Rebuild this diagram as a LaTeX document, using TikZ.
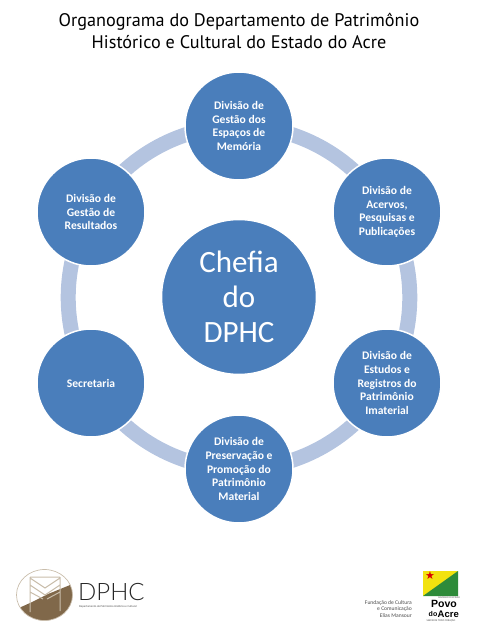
\documentclass[tikz,border=0pt]{standalone}
\usepackage{fontspec}
\setmainfont{Carlito}
\newfontfamily\titlefont{PT Sans}
\newfontfamily\logofont{Lato Light}
\newfontfamily\symfont{DejaVu Sans}
\newfontfamily\heavyfont[BoldFont=Liberation Sans Bold]{Liberation Sans}
\usetikzlibrary{backgrounds}
\definecolor{blueA}{HTML}{4A7EBB}
\definecolor{ringA}{HTML}{B4C4E0}
\definecolor{brownA}{HTML}{80684A}
\definecolor{lineA}{HTML}{C9BDAB}
\definecolor{flagG}{HTML}{2E8B3A}
\definecolor{flagY}{HTML}{F2E20F}
\tikzset{
  x=1pt,y=-1pt,
  outer/.style={circle,fill=blueA,draw=white,line width=1.5pt,minimum size=108pt,inner sep=0pt,
    text=white,align=center,font=\fontsize{11.6}{13.7}\selectfont\bfseries},
  hub/.style={circle,fill=blueA,draw=white,line width=1.5pt,minimum size=155pt,inner sep=0pt,
    text=white,align=center,font=\fontsize{31}{35}\selectfont},
  ringarc/.style={line width=15pt,draw=ringA,bend left=30,looseness=0.912},
  titletext/.style={align=center,font=\titlefont\fontsize{18.2}{22}\selectfont,text=black},
  smalltext/.style={align=right,anchor=east,inner sep=0pt,font=\fontsize{5.6}{6.4}\selectfont,text=black!70},
}
\begin{document}
\begin{tikzpicture}
\useasboundingbox (0,0) rectangle (478,640);
\node[titletext] (title) at (239,31) {Organograma do Departamento de Patrimônio\\Histórico e Cultural do Estado do Acre};
\node[hub] (hub) at (239,297) {Chefia\\do\\DPHC};
\node[outer] (n1) at (239,126) {Divisão de\\Gestão dos\\Espaços de\\Memória};
\node[outer] (n2) at (387,212) {Divisão de\\Acervos,\\Pesquisas e\\Publicações};
\node[outer] (n3) at (387,383) {Divisão de\\Estudos e\\Registros do\\Patrimônio\\Imaterial};
\node[outer] (n4) at (239,469) {Divisão de\\Preservação e\\Promoção do\\Patrimônio\\Material};
\node[outer] (n5) at (91,383) {Secretaria};
\node[outer] (n6) at (91,212) {Divisão de\\Gestão de\\Resultados};
\begin{scope}[on background layer]
\draw[ringarc] (n1.center) to (n2.center);
\draw[ringarc] (n2.center) to (n3.center);
\draw[ringarc] (n3.center) to (n4.center);
\draw[ringarc] (n4.center) to (n5.center);
\draw[ringarc] (n5.center) to (n6.center);
\draw[ringarc] (n6.center) to (n1.center);
\end{scope}
% DPHC logo
\begin{scope}
\clip (44.5,595) ellipse [x radius=28,y radius=25.5];
\fill[brownA] (10,612) -- (30,603) -- (48,594) -- (75,583) -- (75,625) -- (10,625) -- cycle;
\end{scope}
\draw[lineA,line width=0.7pt] (44.5,595) ellipse [x radius=28,y radius=25.5];
\draw[lineA,line width=1pt] (30,577) -- (30,612) (60,577) -- (60,611)
  (30,578) -- (45,588) -- (60,578) (30,585) -- (45,595) -- (60,585)
  (30,592) -- (43,599) (47,599) -- (60,592) (30,577) -- (60,577);
\node[inner sep=0pt,anchor=west,font=\logofont\fontsize{24}{24}\selectfont,text=black!85] (dphc) at (78,592) {DPHC};
\node[inner sep=0pt,anchor=west,font=\fontsize{2.9}{4}\selectfont,text=black!70] (dphcsub) at (79,607) {Departamento de Patrimônio Histórico e Cultural};
% FEM
\node[smalltext] (fem) at (412,609) {Fundação de Cultura\\e Comunicação\\Elias Mansour};
% Flag
\fill[flagY] (423,571) rectangle (458,596);
\fill[flagG] (423,596) -- (458,571) -- (458,596) -- cycle;
\node[inner sep=0pt,text=red!85!black,font=\symfont\fontsize{11}{11}\selectfont] (star) at (430,576) {★};
\node[inner sep=0pt,font=\heavyfont\bfseries\fontsize{10.5}{10.5}\selectfont] (povo) at (444,603.5) {Povo};
\node[inner sep=0pt,font=\heavyfont\bfseries\fontsize{9.5}{9.5}\selectfont,anchor=east] (acre) at (459,614) {Acre};
\node[inner sep=0pt,font=\heavyfont\bfseries\fontsize{7}{7}\selectfont,anchor=east] (dotext) at (acre.west) {do};
\node[inner sep=0pt,font=\fontsize{2.4}{3}\selectfont,text=black!70] (gov) at (449,598) {GOVERNO DO ESTADO};
\node[inner sep=0pt,font=\fontsize{2.6}{3}\selectfont,text=black!70] (servir) at (441,620.5) {SERVIR DE TODO CORAÇÃO};
\end{tikzpicture}
\end{document}
